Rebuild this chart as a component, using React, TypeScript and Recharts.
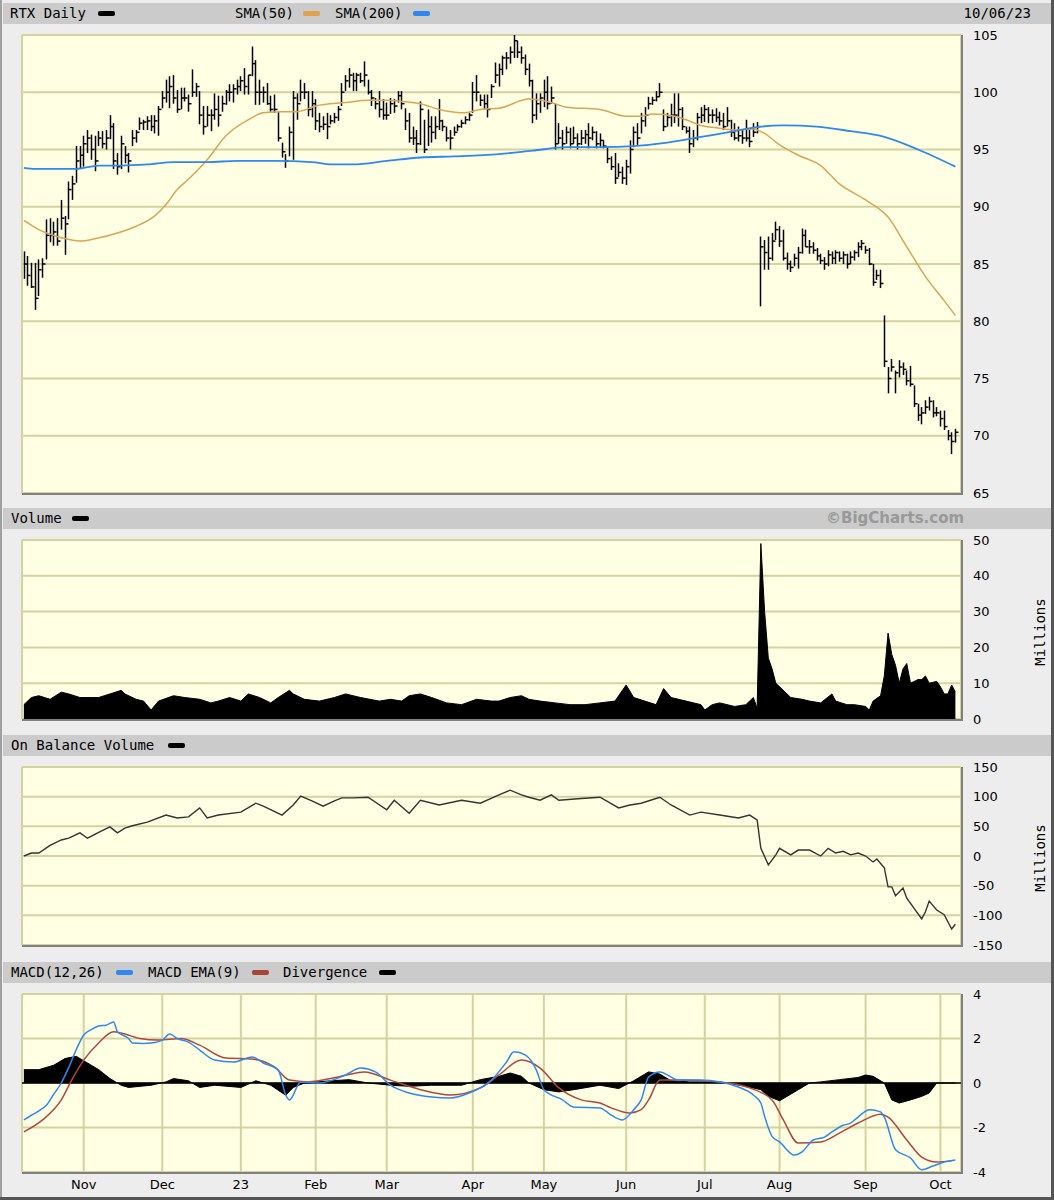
import { ComposedChart, Bar, Line, Area, XAxis, YAxis, CartesianGrid, ReferenceLine } from 'recharts';

// trading-day index 0 = Oct 10 2022, 249 = Oct 6 2023
const monthTicks = [16, 37, 58, 78, 97, 120, 139, 161, 182, 202, 225, 245];
const monthLabels = ['Nov', 'Dec', '23', 'Feb', 'Mar', 'Apr', 'May', 'Jun', 'Jul', 'Aug', 'Sep', 'Oct'];

const highs = [
  86.1, 85.7, 85.1, 85.1, 85.4, 85.5, 88.9, 89, 88.7, 89, 90.6, 89.2, 92.2, 92.7, 95.3, 95.3, 96.2, 96.7, 96.3, 96.2,
  96.6, 96.6, 96.7, 98, 97.3, 94.7, 96.2, 95.3, 94.7, 96.7, 96.7, 97.8, 97.6, 97.9, 98, 98, 98.8, 100.1, 101.1, 101.4,
  101.5, 100.2, 100.4, 100.4, 99.8, 102, 100.8, 100.1, 98.8, 98.8, 98.5, 99.9, 99.7, 99.7, 100.2, 100.7, 100.7, 101.1, 101.4, 102.1,
  101.5, 104, 102.8, 101.1, 100.5, 100.8, 99.7, 99.8, 98.3, 95.6, 94.6, 97, 100.1, 99.9, 101.1, 100.8, 100.1, 100.1, 99.4, 98.2,
  97.9, 98.2, 98, 98.2, 98.8, 100.8, 101.5, 102.1, 101.7, 101.7, 101.7, 102.7, 101.1, 100.2, 99.5, 100.1, 99.4, 99.1, 99.5, 99.4,
  100.1, 100.1, 98.6, 98.2, 97, 96.7, 99.2, 97.6, 98.5, 97.9, 97.9, 99.4, 97.6, 97, 96.7, 97, 97.2, 97.6, 97.9, 98.2,
  100.9, 101.5, 99.8, 99.8, 99.8, 100.7, 102.6, 102.5, 103.2, 103.5, 104, 105, 104.5, 104, 103.3, 102.5, 101.1, 99.9, 99.9, 101.1,
  101.4, 100.5, 99, 97.3, 96.7, 97, 96.9, 97, 96.4, 96.7, 96.7, 97.3, 97, 96.6, 96.4, 95.8, 95.2, 94.4, 94.7, 93.8,
  93.5, 94.1, 95.8, 97, 97.3, 98.2, 98.7, 99.6, 99.6, 100.1, 100.8, 98.5, 98.2, 99, 99.9, 99.9, 98.7, 97, 97, 96.7,
  98.2, 98.7, 98.9, 98.7, 98.5, 98.6, 98.3, 98.2, 98.7, 97.6, 97.3, 97, 96.7, 97.6, 96.7, 97.3, 97.4, 87.4, 87.1, 87.4,
  87.7, 88.7, 88.3, 88, 86, 85.3, 85.9, 86.5, 88.1, 88, 87.1, 86.9, 86.4, 85.9, 85.6, 86.2, 86.1, 86.2, 86.1, 86.1,
  85.9, 86.1, 86.2, 86.9, 87.1, 86.6, 86.4, 85, 84.5, 84.5, 80.5, 76, 76.7, 75.7, 76.6, 76.4, 75.7, 76.1, 74.4, 72.8,
  72.5, 73.1, 73.4, 73.1, 72.5, 72.2, 72.2, 70.5, 70.3, 70.6,
];
const lows = [
  83.7, 83.1, 82.9, 81, 82.2, 83.8, 85.4, 86.9, 86.6, 86.6, 88, 85.8, 88.9, 90.6, 92.1, 93.3, 93.5, 94.7, 94.1, 93.1,
  95.3, 95.1, 95, 95.9, 93.3, 92.8, 93.3, 93.8, 93, 95.3, 95.6, 96.7, 96.7, 96.7, 96.6, 96.4, 96.2, 98.6, 99.1, 98.6,
  99, 98.2, 98.5, 99.2, 98.3, 99.6, 99.6, 97.2, 96.3, 97, 96.6, 97.6, 97, 98.3, 98.9, 99.2, 99.1, 99.8, 100.1, 99.8,
  99.8, 101.4, 98.9, 98.9, 99.1, 98.9, 98.3, 98.2, 95.7, 94.3, 93.4, 94.4, 94.1, 97.6, 99.2, 99.4, 97.9, 97.8, 96.7, 96.5,
  96.7, 95.9, 97.2, 97.3, 97.5, 98.8, 100.1, 100.4, 100.1, 100.1, 100.8, 100.5, 99.8, 98.8, 98.5, 97.8, 97.6, 97.6, 98.1, 98.2,
  99.1, 98.5, 96.7, 95.6, 95.4, 94.7, 95.4, 94.7, 95.3, 95.6, 95.9, 96.7, 96.6, 95.7, 95, 96.2, 96.6, 96.9, 97.2, 97.5,
  98.2, 99.2, 98.8, 98.5, 97.8, 99.5, 100.8, 100.5, 101.5, 102, 102.5, 103, 103, 102.5, 101.5, 100.5, 97.3, 97.6, 98.2, 98.7,
  98.5, 99, 95, 95.5, 95, 95.5, 95.1, 95.5, 95, 95.4, 95.5, 95.1, 95.8, 95.1, 95.2, 95.1, 93.8, 93.2, 92, 92.6,
  92, 91.9, 92.9, 95.2, 95.4, 96.4, 97, 98.5, 98.9, 99.2, 99.6, 96.6, 97, 97, 97.3, 97, 96.7, 96.4, 94.7, 95.2,
  95.8, 97.3, 97.4, 97.3, 97.3, 97.4, 97.1, 96.7, 97, 96.1, 95.8, 95.7, 95.5, 95.7, 95.2, 96.1, 96.4, 81.3, 84.5, 84.5,
  85.3, 87.1, 86.5, 85.3, 84.5, 84.3, 84.8, 84.6, 85.9, 86.5, 85.9, 85.9, 85.3, 85, 84.5, 84.8, 85, 85, 85.2, 85,
  84.6, 85, 85.3, 85.6, 86.2, 85.9, 84.9, 83.1, 83.6, 82.9, 76, 73.7, 75.6, 73.7, 75.1, 75.3, 74.4, 74.3, 72.5, 71.3,
  71, 71.9, 72.2, 71.6, 71.7, 70.8, 70.5, 69.6, 68.4, 69.4,
];
const closes = [
  85, 84, 83, 82, 84.5, 85, 87.5, 87.5, 87.8, 87, 89, 88.5, 91.5, 92, 94, 94.5, 95.5, 96, 95, 94,
  96, 95.5, 96, 97, 94, 93.5, 95.5, 94.5, 94, 96, 96.5, 97.3, 97.4, 97.5, 97, 97.5, 98.5, 99.5, 100, 100.5,
  99.5, 98.5, 99.5, 99.5, 99, 100, 100.5, 98, 97, 98, 98, 98.5, 98, 99, 100, 100, 100.3, 100.5, 101, 100.5,
  101.5, 102.5, 100, 100, 100, 99, 98.5, 98.5, 96, 94.8, 94, 96.5, 99.5, 99, 100, 100, 98.5, 99, 97.5, 97,
  97.2, 97, 97.5, 97.8, 98.5, 100, 101, 101.5, 101, 101.5, 101, 101.5, 100, 99.5, 99, 98.5, 98, 98, 99, 98.8,
  99.7, 99, 97.5, 96, 96, 95.5, 98.5, 95, 97, 96.5, 97, 97.5, 97, 96, 96, 96.5, 97, 97.3, 97.6, 98,
  100, 100, 99.3, 99, 98.5, 100.5, 101.5, 102, 103, 103, 103.5, 104.5, 103.5, 103, 102, 101, 98, 99, 99.5, 100,
  99, 99.5, 95.5, 96, 95.5, 96.5, 95.5, 96, 95.5, 96, 96.3, 96, 96.5, 95.5, 95.8, 95.3, 94.2, 93.5, 92.5, 93,
  92.5, 93.5, 95, 96.5, 96, 97.5, 98, 99, 99.3, 99.6, 100, 97, 97.8, 98, 98, 98.5, 97, 96.6, 95.5, 96,
  97.8, 98, 98.5, 98, 98, 97.8, 97.5, 97, 97.5, 96.5, 96, 96.2, 96, 96, 95.7, 96.5, 97, 86.5, 86, 85.5,
  87, 88, 87, 85.5, 85, 84.7, 85.5, 86, 87.5, 86.5, 86.5, 86.2, 85.7, 85.3, 85, 85.8, 85.5, 86, 85.5, 85.8,
  85, 85.6, 86, 86.5, 86.8, 86.2, 85, 83.4, 84, 83.3, 76.5, 75, 76, 75.5, 76, 75.8, 74.8, 74.5, 72.8, 71.8,
  72, 72.5, 73, 72, 72, 71.5, 70.8, 70, 69.5, 70.3,
];

const sma50Days = [0, 4, 10, 15, 19, 25, 30, 35, 38, 41, 44, 49, 54, 60, 64, 69, 73, 78, 86, 92, 97, 101, 106, 111, 118, 122, 127, 135, 141, 145, 154, 161, 165, 168, 174, 177, 181, 185, 190, 195, 198, 202, 207, 213, 218, 225, 231, 236, 241, 246, 249];
const sma50 = [88.8, 88.0, 87.3, 87.0, 87.2, 87.7, 88.3, 89.2, 90.2, 91.5, 92.4, 94.1, 96.2, 97.6, 98.2, 98.3, 98.3, 98.8, 99.1, 99.3, 99.3, 99.2, 99.0, 98.5, 98.2, 98.5, 98.6, 99.4, 99.1, 98.7, 98.5, 97.9, 97.9, 98.1, 97.9, 97.6, 97.1, 96.9, 96.7, 96.8, 96.4, 95.4, 94.5, 93.6, 92.0, 90.6, 89.1, 86.5, 83.9, 81.8, 80.5];
const sma200Days = [0, 3, 8, 14, 20, 26, 33, 40, 49, 57, 67, 77, 82, 88, 97, 106, 115, 127, 136, 145, 154, 163, 172, 181, 190, 197, 203, 212, 221, 230, 239, 249];
const sma200 = [93.4, 93.3, 93.3, 93.3, 93.6, 93.6, 93.7, 93.9, 93.9, 94.0, 94.0, 93.9, 93.7, 93.7, 94.0, 94.3, 94.4, 94.6, 94.9, 95.2, 95.2, 95.3, 95.6, 96.1, 96.6, 97.0, 97.1, 97.0, 96.6, 96.1, 95.0, 93.5];

const volDays = [0, 2, 4, 7, 10, 12, 15, 18, 20, 23, 26, 27, 30, 32, 34, 36, 40, 43, 47, 50, 52, 55, 58, 60, 63, 66, 68, 71, 72, 75, 79, 83, 86, 90, 95, 98, 101, 103, 106, 109, 113, 117, 121, 125, 127, 130, 133, 135, 138, 142, 146, 150, 154, 158, 161, 163, 166, 169, 171, 173, 177, 181, 182, 184, 186, 190, 193, 195, 196, 197, 198, 199, 200, 201, 203, 205, 208, 210, 213, 216, 217, 220, 222, 225, 226, 227, 229, 230, 231, 232, 233, 234, 235, 236, 237, 239, 240, 241, 242, 244, 245, 246, 247, 248, 249];
const volumes = [4, 6, 6.5, 5.5, 7.5, 7, 6, 6, 6, 7, 8, 7, 5.5, 5, 2.5, 5, 6.5, 6, 5.5, 4.5, 5, 6, 5, 7, 6, 4.5, 6, 8, 7, 5.5, 5, 6, 7, 6, 5, 5.5, 5, 6.5, 7, 6, 4.5, 4, 5.5, 5, 5, 6, 6.5, 5.5, 5, 4.5, 4, 4, 4.5, 5, 9.5, 6, 5, 4, 8.5, 6, 5, 4, 2.5, 4, 4.5, 3.5, 4, 6, 3, 49, 30, 17, 14, 10, 8, 6, 5.5, 5, 4.5, 7, 5, 4, 4, 3.5, 2.5, 5, 6.5, 12, 24, 18, 15, 10, 14, 15.5, 10, 11, 11, 12, 10, 10.5, 9, 7, 7, 9.5, 7.5];

const obvDays = [0, 2, 4, 7, 10, 12, 15, 17, 20, 23, 25, 27, 29, 33, 38, 41, 44, 47, 49, 52, 58, 62, 64, 69, 72, 74, 77, 80, 83, 85, 88, 92, 97, 99, 103, 106, 111, 117, 122, 127, 130, 133, 135, 138, 141, 143, 149, 154, 159, 162, 165, 170, 173, 178, 181, 186, 191, 194, 196, 197, 199, 201, 202, 205, 207, 210, 213, 215, 217, 219, 221, 223, 225, 227, 228, 230, 231, 232, 233, 235, 236, 240, 241, 242, 244, 246, 248, 249];
const obv = [0, 5, 5, 18, 27, 30, 39, 30, 40, 49, 39, 47, 51, 57, 69, 64, 66, 81, 64, 69, 74, 89, 84, 69, 86, 101, 93, 84, 93, 98, 98, 99, 78, 94, 72, 94, 86, 94, 89, 103, 111, 103, 99, 94, 103, 94, 97, 99, 81, 86, 89, 99, 86, 69, 74, 69, 64, 69, 61, 13, -15, 2, 13, 2, 10, 10, 0, 13, 5, 8, 2, 5, 0, -10, -5, -20, -52, -52, -67, -54, -71, -106, -94, -76, -91, -99, -123, -115];

const macdDays = [0, 2, 4, 6, 8, 10, 12, 14, 16, 18, 20, 22, 24, 25, 28, 29, 32, 34, 37, 39, 41, 44, 47, 51, 56, 61, 64, 68, 70, 71, 74, 79, 86, 90, 94, 98, 103, 109, 114, 119, 125, 129, 131, 134, 137, 139, 144, 147, 154, 157, 160, 163, 165, 167, 170, 175, 181, 186, 191, 195, 197, 198, 200, 202, 206, 208, 211, 214, 216, 219, 221, 223, 226, 229, 230, 233, 237, 240, 243, 246, 249];
const macd = [-1.66, -1.45, -1.25, -1.0, -0.5, 0.0, 0.7, 1.5, 2.16, 2.4, 2.56, 2.6, 2.74, 2.3, 2.0, 1.8, 1.78, 1.8, 1.93, 2.2, 2.0, 1.84, 1.48, 1.03, 0.94, 1.17, 0.9, 0.58, -0.54, -0.76, 0.05, 0, 0.36, 0.67, 0.5, -0.1, -0.45, -0.63, -0.67, -0.45, 0.13, 0.94, 1.4, 1.26, 0.58, -0.3, -0.76, -1.08, -1.12, -1.44, -1.66, -1.2, -0.76, 0.27, 0.5, 0.13, 0.13, 0.05, -0.18, -0.54, -0.9, -1.5, -2.4, -2.65, -3.24, -3.1, -2.56, -2.43, -2.2, -1.9, -1.8, -1.53, -1.2, -1.3, -1.53, -3.0, -3.37, -3.9, -3.73, -3.55, -3.46];
const signalDays = [0, 5, 10, 13, 16, 20, 24, 26, 31, 36, 42, 47, 54, 61, 67, 71, 76, 84, 91, 98, 106, 114, 122, 127, 133, 138, 143, 149, 154, 157, 162, 165, 167, 170, 175, 186, 194, 200, 203, 207, 213, 218, 223, 229, 231, 236, 240, 244, 248];
const signal = [-2.2, -1.66, -0.76, 0.2, 1.03, 1.8, 2.3, 2.25, 2.0, 1.93, 2.0, 1.7, 1.12, 1.08, 0.72, 0.13, 0.05, 0.27, 0.5, 0.13, -0.3, -0.54, -0.22, 0.36, 1.03, 0.67, -0.22, -0.76, -0.9, -1.12, -1.35, -1.2, -0.76, 0.13, 0.13, 0.05, -0.22, -0.76, -1.66, -2.7, -2.65, -2.25, -1.8, -1.4, -1.53, -2.56, -3.33, -3.55, -3.5];
const divDays = [0, 4, 8, 11, 14, 16, 20, 23, 26, 28, 34, 38, 40, 44, 47, 51, 58, 62, 66, 70, 72, 75, 82, 87, 92, 98, 103, 109, 117, 122, 127, 130, 133, 135, 139, 143, 147, 154, 159, 163, 167, 170, 173, 178, 186, 193, 197, 199, 202, 205, 207, 210, 213, 218, 223, 225, 227, 230, 232, 234, 237, 240, 242, 244, 249];
const divergence = [0.6, 0.6, 0.8, 1.1, 1.2, 1.0, 0.6, 0.2, -0.1, -0.2, -0.1, 0.05, 0.2, 0.1, -0.2, -0.1, -0.2, 0.1, -0.1, -0.55, -0.2, 0, 0.1, 0.15, 0, -0.1, -0.15, -0.1, -0.1, 0.15, 0.3, 0.45, 0.3, 0, -0.3, -0.4, -0.3, -0.1, -0.25, 0.1, 0.5, 0.4, 0.1, 0.05, 0.05, -0.15, -0.3, -0.6, -0.8, -0.5, -0.3, 0, 0.05, 0.15, 0.25, 0.36, 0.3, 0, -0.76, -0.9, -0.76, -0.6, -0.45, 0, 0];

const priceTicks = [65, 70, 75, 80, 85, 90, 95, 100, 105];
const volTicks = [0, 10, 20, 30, 40, 50];
const obvTicks = [-150, -100, -50, 0, 50, 100, 150];
const macdTicks = [-4, -2, 0, 2, 4];

const priceRows = closes.map((c, i) => ({ i, range: [lows[i], highs[i]], high: highs[i], low: lows[i], close: c }));
const pairs = (days: number[], vals: number[]) => days.map((d, k) => ({ i: d, v: vals[k] }));

const W = 1054;
const xDomain = [-0.5, 250.5];
const GRID = '#d3d3a0';
const PLOT_BG = '#ffffe3';
const tickStyle = { fill: '#000', fontSize: 13, fontFamily: 'DejaVu Sans' };
const mono = '"DejaVu Sans Mono", monospace';

const PriceBar = (props: any) => {
  const { x, y, width, height, payload } = props;
  if (x == null || y == null) return null;
  const top = Math.min(y, y + height);
  const h = Math.abs(height);
  const cx = Math.round(x + width / 2) + 0.5;
  const span = payload.high - payload.low || 1;
  const yc = top + ((payload.high - payload.close) / span) * h;
  return (
    <g>
      <line x1={cx} x2={cx} y1={top} y2={top + h} stroke="#000" strokeWidth={1.5} />
      <line x1={cx} x2={cx + 3} y1={yc} y2={yc} stroke="#000" strokeWidth={1.5} />
    </g>
  );
};

function HeaderBar({ top, children }: any) {
  return (
    <div style={{ position: 'absolute', left: 3, top, width: 1048, height: 21, background: '#cbcbcb' }}>{children}</div>
  );
}

function Label({ x, text, bold, color }: any) {
  return (
    <span
      style={{
        position: 'absolute', left: x - 3, top: 0, lineHeight: '21px', fontFamily: bold ? 'DejaVu Sans' : mono,
        fontSize: bold ? 15 : 14, fontWeight: bold ? 'bold' : 'normal', color: color || '#000', whiteSpace: 'nowrap',
      }}
    >
      {text}
    </span>
  );
}

function Swatch({ x, color }: any) {
  return <span style={{ position: 'absolute', left: x - 3, top: 8, width: 17, height: 5, background: color, borderRadius: 2 }} />;
}

function Frame({ top, bottom }: any) {
  return (
    <>
      <div style={{ position: 'absolute', left: 22, top: bottom, width: 941, height: 2, background: '#808080' }} />
      <div style={{ position: 'absolute', left: 961, top, width: 2, height: bottom - top + 2, background: '#808080' }} />
    </>
  );
}

function Millions({ y }: any) {
  return (
    <div
      style={{
        position: 'absolute', left: 1000, top: y - 10, width: 80, height: 20, lineHeight: '20px', textAlign: 'center',
        transform: 'rotate(-90deg)', fontFamily: mono, fontSize: 14, color: '#000',
      }}
    >
      Millions
    </div>
  );
}

const hiddenX = (
  <XAxis dataKey="i" type="number" domain={xDomain} ticks={monthTicks} height={0} tick={false} axisLine={false} tickLine={false} allowDataOverflow />
);

export default function App() {
  return (
    <div style={{ position: 'absolute', left: 0, top: 0, width: W, height: 1200, background: '#ededed', overflow: 'hidden' }}>
      <div style={{ position: 'absolute', left: 0, top: 0, width: 2, height: 1200, background: '#a0a0a0' }} />
      <div style={{ position: 'absolute', right: 0, top: 0, width: 3, height: 1200, background: '#555' }} />
      <div style={{ position: 'absolute', left: 0, bottom: 0, width: W, height: 3, background: '#555' }} />

      <HeaderBar top={3}>
        <Label x={10} text="RTX Daily" />
        <Swatch x={98} color="#000" />
        <Label x={235} text="SMA(50)" />
        <Swatch x={303} color="#dca24c" />
        <Label x={335} text="SMA(200)" />
        <Swatch x={413} color="#2f88f0" />
        <span style={{ position: 'absolute', right: 20, top: 0, lineHeight: '21px', fontFamily: mono, fontSize: 14 }}>10/06/23</span>
      </HeaderBar>

      <div style={{ position: 'absolute', left: 0, top: 25 }}>
        <ComposedChart width={W} height={478} data={priceRows} margin={{ top: 10, right: 33, bottom: 10, left: 22 }}>
          <CartesianGrid stroke={GRID} strokeWidth={2} fill={PLOT_BG} fillOpacity={1} />
          {hiddenX}
          <YAxis orientation="right" width={60} domain={[65, 105]} ticks={priceTicks} tick={tickStyle} tickLine={false} axisLine={false} tickSize={6} tickMargin={6} allowDataOverflow />
          <Line data={pairs(sma50Days, sma50)} dataKey="v" type="monotone" stroke="#d9a556" strokeWidth={1.5} dot={false} isAnimationActive={false} />
          <Line data={pairs(sma200Days, sma200)} dataKey="v" type="monotone" stroke="#2f88f0" strokeWidth={1.8} dot={false} isAnimationActive={false} />
          <Bar dataKey="range" barSize={3} shape={PriceBar} isAnimationActive={false} />
        </ComposedChart>
      </div>
      <Frame top={35} bottom={493} />

      <HeaderBar top={508}>
        <Label x={11} text="Volume" />
        <Swatch x={72} color="#000" />
        <span style={{ position: 'absolute', left: 823, top: 0, lineHeight: '21px', fontFamily: 'DejaVu Sans', fontWeight: 'bold', fontSize: 15, color: '#999' }}>©BigCharts.com</span>
      </HeaderBar>

      <div style={{ position: 'absolute', left: 0, top: 530 }}>
        <ComposedChart width={W} height={199} data={pairs(volDays, volumes)} margin={{ top: 10, right: 33, bottom: 10, left: 22 }}>
          <CartesianGrid stroke={GRID} strokeWidth={2} fill={PLOT_BG} fillOpacity={1} />
          {hiddenX}
          <YAxis orientation="right" width={60} domain={[0, 50]} ticks={volTicks} tick={tickStyle} tickLine={false} axisLine={false} tickSize={6} tickMargin={6} allowDataOverflow />
          <Area dataKey="v" type="linear" stroke="#000" strokeWidth={1} fill="#000" fillOpacity={1} baseValue={0} dot={false} isAnimationActive={false} />
        </ComposedChart>
      </div>
      <Frame top={540} bottom={719} />
      <Millions y={632} />

      <HeaderBar top={735}>
        <Label x={11} text="On Balance Volume" />
        <Swatch x={168} color="#000" />
      </HeaderBar>

      <div style={{ position: 'absolute', left: 0, top: 757 }}>
        <ComposedChart width={W} height={198} data={pairs(obvDays, obv)} margin={{ top: 10, right: 33, bottom: 10, left: 22 }}>
          <CartesianGrid stroke={GRID} strokeWidth={2} fill={PLOT_BG} fillOpacity={1} />
          {hiddenX}
          <YAxis orientation="right" width={60} domain={[-150, 150]} ticks={obvTicks} tick={tickStyle} tickLine={false} axisLine={false} tickSize={6} tickMargin={6} allowDataOverflow />
          <Line dataKey="v" type="linear" stroke="#333" strokeWidth={1.4} dot={false} isAnimationActive={false} />
        </ComposedChart>
      </div>
      <Frame top={767} bottom={945} />
      <Millions y={858} />

      <HeaderBar top={962}>
        <Label x={11} text="MACD(12,26)" />
        <Swatch x={116} color="#2f88f0" />
        <Label x={148} text="MACD EMA(9)" />
        <Swatch x={252} color="#a8443a" />
        <Label x={283} text="Divergence" />
        <Swatch x={379} color="#000" />
      </HeaderBar>

      <div style={{ position: 'absolute', left: 0, top: 984 }}>
        <ComposedChart width={W} height={216} data={pairs(macdDays, macd)} margin={{ top: 10, right: 33, bottom: 3, left: 22 }}>
          <CartesianGrid stroke={GRID} strokeWidth={2} fill={PLOT_BG} fillOpacity={1} />
          <XAxis
            dataKey="i" type="number" domain={xDomain} ticks={monthTicks} interval={0} height={25}
            tick={tickStyle} axisLine={false} tickLine={false} tickSize={6} tickMargin={2} allowDataOverflow
            tickFormatter={(v: number) => monthLabels[monthTicks.indexOf(v)]}
          />
          <YAxis orientation="right" width={60} domain={[-4, 4]} ticks={macdTicks} tick={tickStyle} tickLine={false} axisLine={false} tickSize={6} tickMargin={6} allowDataOverflow />
          <Area data={pairs(divDays, divergence)} dataKey="v" type="linear" stroke="#000" strokeWidth={1} fill="#000" fillOpacity={1} baseValue={0} dot={false} isAnimationActive={false} />
          <ReferenceLine y={0} stroke="#000" strokeWidth={1.5} />
          <Line data={pairs(signalDays, signal)} dataKey="v" type="monotone" stroke="#b0473c" strokeWidth={1.5} dot={false} isAnimationActive={false} />
          <Line dataKey="v" type="monotone" stroke="#2f88f0" strokeWidth={1.5} dot={false} isAnimationActive={false} />
        </ComposedChart>
      </div>
      <Frame top={994} bottom={1172} />
    </div>
  );
}
